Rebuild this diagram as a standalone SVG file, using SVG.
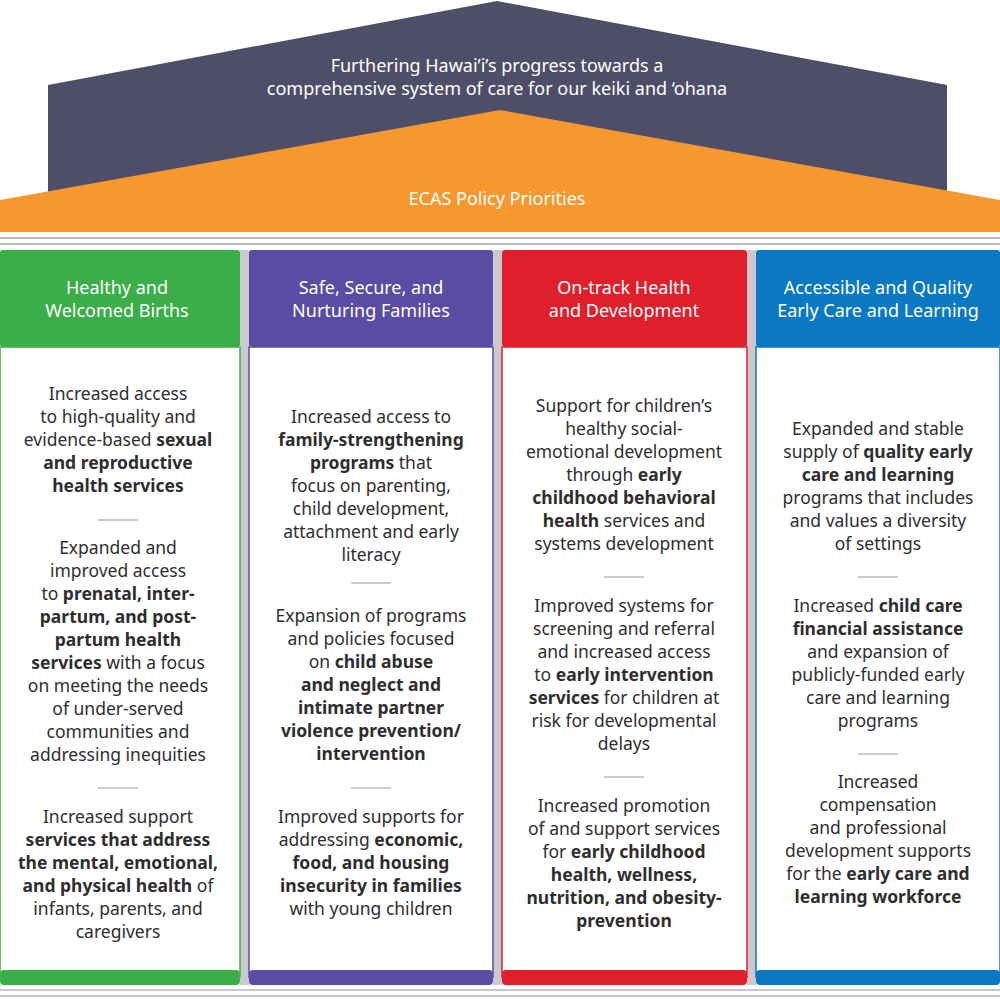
<svg xmlns="http://www.w3.org/2000/svg" width="1000" height="1000" viewBox="0 0 1000 1000">
<style>
.t{font-family:"Noto Sans","Open Sans",sans-serif;font-size:17.5px;fill:#2e2e2e;text-anchor:middle}
.b{font-weight:bold}
.h{font-family:"Noto Sans","Open Sans",sans-serif;font-size:18px;fill:#fff;text-anchor:middle}
.sep{stroke:#999;stroke-width:1.2}
.body{fill:#fff;stroke-width:1.5}
</style>
<rect width="1000" height="1000" fill="#fff"/>
<g id="roof">
<path d="M48,85 L497,1 L947,85 Q947,90 947,95 L947,200 L48,200 Z" fill="#4f4e68"/>
<text class="h" x="497" y="72">Furthering Hawai’i’s progress towards a</text>
<text class="h" x="497" y="95">comprehensive system of care for our keiki and ‘ohana</text>
</g>
<g id="orange">
<path d="M0,200 L500,110 L1000,200 L1000,232 L0,232 Z" fill="#f7982f"/>
<text class="h" x="497" y="205" fill="#fde7c8">ECAS Policy Priorities</text>
</g>
<g id="lines">
<line x1="0" y1="238" x2="1000" y2="238" stroke="#b8b8c0" stroke-width="2"/>
<line x1="0" y1="244" x2="1000" y2="244" stroke="#b8b8c0" stroke-width="2"/>
<line x1="0" y1="990" x2="1000" y2="990" stroke="#c8c8cc" stroke-width="2"/>
<line x1="0" y1="996" x2="1000" y2="996" stroke="#c8c8cc" stroke-width="2"/>
<rect x="240" y="250" width="9" height="735" fill="#c9c9ce"/>
<rect x="493" y="250" width="9" height="735" fill="#c9c9ce"/>
<rect x="747" y="250" width="9" height="735" fill="#c9c9ce"/>
</g>
<g id="col1">
<rect class="body" x="0" y="347" width="240" height="630" stroke="#3bae49"/>
<rect x="0" y="970" width="240" height="15" rx="4" fill="#3bae49"/>
<rect x="0" y="250" width="240" height="97" rx="3" fill="#3bae49"/>
<text class="h" x="117" y="294">Healthy and</text><text class="h" x="117" y="317">Welcomed Births</text>
<text class="t" x="118"><tspan x="118" y="400">Increased access</tspan><tspan x="118" y="423">to high-quality and</tspan><tspan x="118" y="446">evidence-based <tspan class="b">sexual</tspan></tspan><tspan x="118" y="469" class="b">and reproductive</tspan><tspan x="118" y="492" class="b">health services</tspan></text>
<line class="sep" x1="98" y1="520" x2="138" y2="520"/>
<text class="t" x="118"><tspan x="118" y="554">Expanded and</tspan><tspan x="118" y="577">improved access</tspan><tspan x="118" y="600">to <tspan class="b">prenatal, inter-</tspan></tspan><tspan x="118" y="623" class="b">partum, and post-</tspan><tspan x="118" y="646" class="b">partum health</tspan><tspan x="118" y="669"><tspan class="b">services</tspan> with a focus</tspan><tspan x="118" y="692">on meeting the needs</tspan><tspan x="118" y="715">of under-served</tspan><tspan x="118" y="738">communities and</tspan><tspan x="118" y="761">addressing inequities</tspan></text>
<line class="sep" x1="98" y1="788" x2="138" y2="788"/>
<text class="t" x="118"><tspan x="118" y="823">Increased support</tspan><tspan x="118" y="846" class="b">services that address</tspan><tspan x="118" y="869" class="b">the mental, emotional,</tspan><tspan x="118" y="892"><tspan class="b">and physical health</tspan> of</tspan><tspan x="118" y="915">infants, parents, and</tspan><tspan x="118" y="938">caregivers</tspan></text>
</g>
<g id="col2">
<rect class="body" x="249" y="347" width="244" height="630" stroke="#5a4ca3"/>
<rect x="249" y="970" width="244" height="15" rx="4" fill="#5a4ca3"/>
<rect x="249" y="250" width="244" height="97" rx="3" fill="#5a4ca3"/>
<text class="h" x="371" y="294">Safe, Secure, and</text><text class="h" x="371" y="317">Nurturing Families</text>
<text class="t" x="371"><tspan x="371" y="423">Increased access to</tspan><tspan x="371" y="446" class="b">family-strengthening</tspan><tspan x="371" y="469"><tspan class="b">programs</tspan> that</tspan><tspan x="371" y="492">focus on parenting,</tspan><tspan x="371" y="515">child development,</tspan><tspan x="371" y="538">attachment and early</tspan><tspan x="371" y="561">literacy</tspan></text>
<line class="sep" x1="351" y1="583" x2="391" y2="583"/>
<text class="t" x="371"><tspan x="371" y="622">Expansion of programs</tspan><tspan x="371" y="645">and policies focused</tspan><tspan x="371" y="668">on <tspan class="b">child abuse</tspan></tspan><tspan x="371" y="691" class="b">and neglect and</tspan><tspan x="371" y="714" class="b">intimate partner</tspan><tspan x="371" y="737" class="b">violence prevention/</tspan><tspan x="371" y="760" class="b">intervention</tspan></text>
<line class="sep" x1="351" y1="788" x2="391" y2="788"/>
<text class="t" x="371"><tspan x="371" y="823">Improved supports for</tspan><tspan x="371" y="846">addressing <tspan class="b">economic,</tspan></tspan><tspan x="371" y="869" class="b">food, and housing</tspan><tspan x="371" y="892" class="b">insecurity in families</tspan><tspan x="371" y="915">with young children</tspan></text>
</g>
<g id="col3">
<rect class="body" x="502" y="347" width="245" height="630" stroke="#e01f2d"/>
<rect x="502" y="970" width="245" height="15" rx="4" fill="#e01f2d"/>
<rect x="502" y="250" width="245" height="97" rx="3" fill="#e01f2d"/>
<text class="h" x="624" y="294">On-track Health</text><text class="h" x="624" y="317">and Development</text>
<text class="t" x="624"><tspan x="624" y="412">Support for children’s</tspan><tspan x="624" y="435">healthy social-</tspan><tspan x="624" y="458">emotional development</tspan><tspan x="624" y="481">through <tspan class="b">early</tspan></tspan><tspan x="624" y="504" class="b">childhood behavioral</tspan><tspan x="624" y="527"><tspan class="b">health</tspan> services and</tspan><tspan x="624" y="550">systems development</tspan></text>
<line class="sep" x1="604" y1="577" x2="644" y2="577"/>
<text class="t" x="624"><tspan x="624" y="612">Improved systems for</tspan><tspan x="624" y="635">screening and referral</tspan><tspan x="624" y="658">and increased access</tspan><tspan x="624" y="681">to <tspan class="b">early intervention</tspan></tspan><tspan x="624" y="704"><tspan class="b">services</tspan> for children at</tspan><tspan x="624" y="727">risk for developmental</tspan><tspan x="624" y="750">delays</tspan></text>
<line class="sep" x1="604" y1="777" x2="644" y2="777"/>
<text class="t" x="624"><tspan x="624" y="812">Increased promotion</tspan><tspan x="624" y="835">of and support services</tspan><tspan x="624" y="858">for <tspan class="b">early childhood</tspan></tspan><tspan x="624" y="881" class="b">health, wellness,</tspan><tspan x="624" y="904" class="b">nutrition, and obesity-</tspan><tspan x="624" y="927" class="b">prevention</tspan></text>
</g>
<g id="col4">
<rect class="body" x="756" y="347" width="244" height="630" stroke="#0a78c2"/>
<rect x="756" y="970" width="244" height="15" rx="4" fill="#0a78c2"/>
<rect x="756" y="250" width="244" height="97" rx="3" fill="#0a78c2"/>
<text class="h" x="878" y="294">Accessible and Quality</text><text class="h" x="878" y="317">Early Care and Learning</text>
<text class="t" x="878"><tspan x="878" y="435">Expanded and stable</tspan><tspan x="878" y="458">supply of <tspan class="b">quality early</tspan></tspan><tspan x="878" y="481" class="b">care and learning</tspan><tspan x="878" y="504">programs that includes</tspan><tspan x="878" y="527">and values a diversity</tspan><tspan x="878" y="550">of settings</tspan></text>
<line class="sep" x1="858" y1="577" x2="898" y2="577"/>
<text class="t" x="878"><tspan x="878" y="612">Increased <tspan class="b">child care</tspan></tspan><tspan x="878" y="635" class="b">financial assistance</tspan><tspan x="878" y="658">and expansion of</tspan><tspan x="878" y="681">publicly-funded early</tspan><tspan x="878" y="704">care and learning</tspan><tspan x="878" y="727">programs</tspan></text>
<line class="sep" x1="858" y1="754" x2="898" y2="754"/>
<text class="t" x="878"><tspan x="878" y="788">Increased</tspan><tspan x="878" y="811">compensation</tspan><tspan x="878" y="834">and professional</tspan><tspan x="878" y="857">development supports</tspan><tspan x="878" y="880">for the <tspan class="b">early care and</tspan></tspan><tspan x="878" y="903" class="b">learning workforce</tspan></text>
</g>
</svg>
